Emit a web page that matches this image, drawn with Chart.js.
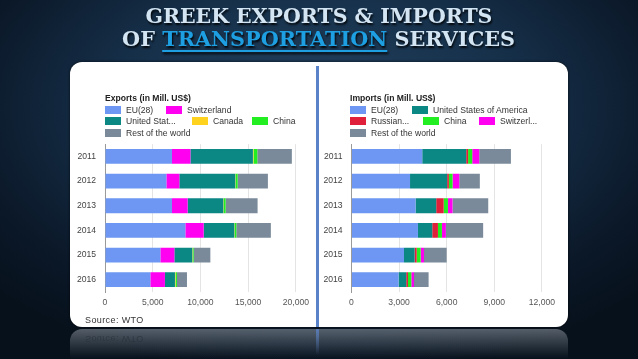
<!DOCTYPE html>
<html>
<head>
<meta charset="utf-8">
<script src="https://cdn.jsdelivr.net/npm/chart.js@4.4.1/dist/chart.umd.min.js"></script>
<style>
    html, body { margin: 0; padding: 0; }
    body { width: 638px; height: 359px; overflow: hidden; font-family: "Liberation Sans", Arial, sans-serif; }
    #slide {
        position: relative; width: 638px; height: 359px; overflow: hidden;
        background: radial-gradient(ellipse 70% 75% at 50% 30%, #22405d 0%, #16304a 45%, #0b1828 80%, #07111c 100%);
    }
    .title-line {
        position: absolute; left: 0; width: 638px; text-align: center; white-space: nowrap;
        font-family: "DejaVu Serif", serif; font-weight: bold; font-size: 21px; line-height: 21px;
        color: #d3e5f3; text-shadow: 1px 2px 2px rgba(0, 0, 0, 0.85);
    }
    .title-line span.inner { display: inline-block; transform-origin: center; }
    .hl { color: #1d9fe2; text-decoration: underline; text-decoration-thickness: 2px; text-underline-offset: 4px; }
    #panel {
        position: absolute; left: 70px; top: 62px; width: 498px; height: 265px;
        background: #fff; border-radius: 12px; box-shadow: 0 0 3px rgba(0, 0, 0, 0.7);
    }
    #reflection {
        position: absolute; left: 70px; top: 329px; width: 498px; height: 30px;
        border-radius: 12px 12px 0 0;
        background: linear-gradient(to bottom, rgba(190, 198, 208, 0.42), rgba(120, 132, 146, 0.12) 80%, rgba(120, 132, 146, 0));
    }
    #reflection .src {
        position: absolute; left: 15px; top: 5px; font-size: 9px; letter-spacing: 0.4px;
        color: rgba(40, 50, 60, 0.7); transform: scaleY(-1);
    }
    #divider {
        position: absolute; left: 316px; top: 66px; width: 3px; height: 261px; background: #5a82c8;
    }
    #divider-ref {
        position: absolute; left: 316px; top: 329px; width: 3px; height: 26px;
        background: linear-gradient(to bottom, rgba(90, 130, 200, 0.8), rgba(90, 130, 200, 0));
    }
    .legend { position: absolute; left: 0; top: 0; width: 638px; height: 359px; pointer-events: none; z-index: 3; }
    .legend .ltitle { position: absolute; font-size: 8.6px; font-weight: bold; color: #222; line-height: 10px; white-space: nowrap; }
    .legend .item { position: absolute; height: 10px; line-height: 10px; font-size: 8.6px; color: #333; white-space: nowrap; }
    .legend .sw { position: absolute; left: 0; top: 1px; width: 16px; height: 8px; }
    .legend .txt { position: absolute; left: 21px; top: 0; }
    .chart { position: absolute; z-index: 2; }
    .source { position: absolute; left: 85px; top: 315px; font-size: 9px; letter-spacing: 0.4px; color: #333; z-index: 3; }
</style>
</head>
<body>
<div id="slide">
    <div class="title-line" id="title1" style="top: 5px;"><span class="inner">GREEK EXPORTS &amp; IMPORTS</span></div>
    <div class="title-line" id="title2" style="top: 28px;"><span class="inner">OF <span class="hl">TRANSPORTATION</span> SERVICES</span></div>
    <div id="panel"></div>
    <div id="reflection"><div class="src">Source: WTO</div></div>
    <div id="divider"></div>
    <div id="divider-ref"></div>
    <div class="legend" id="exp-legend"></div>
    <div class="legend" id="imp-legend"></div>
    <div class="chart" style="left: 72px; top: 130px;"><canvas id="exp-chart" width="242" height="182"></canvas></div>
    <div class="chart" style="left: 322px; top: 130px;"><canvas id="imp-chart" width="238" height="182"></canvas></div>
    <div class="source">Source: WTO</div>
</div>
<script>
    // Values in million US$
    const years = ['2011', '2012', '2013', '2014', '2015', '2016'];

    const exportEU = [7020, 6430, 7020, 8420, 5800, 4750];
    const exportSwitzerland = [1930, 1360, 1640, 1920, 1470, 1530];
    const exportUSA = [6550, 5860, 3740, 3210, 1880, 1050];
    const exportCanada = [60, 40, 40, 40, 40, 60];
    const exportChina = [400, 210, 200, 170, 100, 150];
    const exportRest = [3620, 3170, 3350, 3620, 1750, 1050];

    const importEU = [4460, 3690, 4040, 4190, 3310, 2970];
    const importUSA = [2770, 2340, 1300, 900, 670, 480];
    const importRussia = [120, 110, 470, 360, 130, 110];
    const importChina = [260, 230, 270, 250, 250, 210];
    const importSwitzerland = [440, 420, 290, 250, 210, 170];
    const importRest = [2000, 1300, 2250, 2350, 1430, 920];

    const exportTicks = [0, 5000, 10000, 15000, 20000];
    const importTicks = [0, 3000, 6000, 9000, 12000];

    const exportLabels = ['EU(28)', 'Switzerland', 'United Stat...', 'Canada', 'China', 'Rest of the world'];
    const importLabels = ['EU(28)', 'United States of America', 'Russian...', 'China', 'Switzerl...', 'Rest of the world'];

    const COLORS = {
        eu: '#6d97f2',
        swiss: '#ff00f0',
        usa: '#0b8784',
        canada: '#ffd21f',
        china: '#22ee22',
        russia: '#e0203a',
        rest: '#7a8a9a'
    };

    const exportSeries = [
        { data: exportEU, color: COLORS.eu },
        { data: exportSwitzerland, color: COLORS.swiss },
        { data: exportUSA, color: COLORS.usa },
        { data: exportCanada, color: COLORS.canada },
        { data: exportChina, color: COLORS.china },
        { data: exportRest, color: COLORS.rest }
    ];
    const importSeries = [
        { data: importEU, color: COLORS.eu },
        { data: importUSA, color: COLORS.usa },
        { data: importRussia, color: COLORS.russia },
        { data: importChina, color: COLORS.china },
        { data: importSwitzerland, color: COLORS.swiss },
        { data: importRest, color: COLORS.rest }
    ];

    const tickFont = { family: '"Liberation Sans", Arial, sans-serif', size: 8.6 };

    function makeChart(id, labels, series, ticks, yWidth) {
        const ctx = document.getElementById(id).getContext('2d');
        return new Chart(ctx, {
            type: 'bar',
            data: {
                labels: years,
                datasets: series.map((s, i) => ({
                    label: labels[i],
                    data: s.data,
                    backgroundColor: s.color,
                    borderWidth: 0,
                    barPercentage: 0.6,
                    categoryPercentage: 1
                }))
            },
            options: {
                indexAxis: 'y',
                responsive: false,
                animation: false,
                layout: { padding: { top: 9, right: 18, left: 0, bottom: 0 } },
                plugins: {
                    legend: { display: false },
                    tooltip: { enabled: false }
                },
                scales: {
                    x: {
                        stacked: true,
                        min: ticks[0],
                        max: ticks[ticks.length - 1],
                        afterBuildTicks: scale => { scale.ticks = ticks.map(v => ({ value: v })); },
                        afterFit: scale => { scale.height = 20; },
                        grid: { color: '#e4e4e4', drawTicks: false },
                        border: { display: false },
                        ticks: {
                            font: tickFont,
                            color: '#555',
                            padding: 5,
                            maxRotation: 0,
                            callback: v => Number(v).toLocaleString('en-US')
                        }
                    },
                    y: {
                        stacked: true,
                        afterFit: scale => { scale.width = yWidth; },
                        grid: { display: false, drawTicks: false },
                        border: { color: '#9a9a9a', width: 1 },
                        ticks: { font: tickFont, color: '#444', padding: 9 }
                    }
                }
            }
        });
    }

    // Legend: rows of [series index, left px]
    function buildLegend(id, titleText, titleLeft, labels, series, rows) {
        const el = document.getElementById(id);
        let html = `<div class="ltitle" style="left:${titleLeft}px; top:93px;">${titleText}</div>`;
        const rowTops = [105, 116.3, 127.7];
        rows.forEach((row, r) => {
            row.forEach(([idx, left]) => {
                html += `<div class="item" style="left:${left}px; top:${rowTops[r]}px;">` +
                    `<span class="sw" style="background:${series[idx].color}"></span>` +
                    `<span class="txt">${labels[idx]}</span></div>`;
            });
        });
        el.innerHTML = html;
    }

    function fitTitle(id, target) {
        const inner = document.querySelector('#' + id + ' .inner');
        const w = inner.getBoundingClientRect().width;
        inner.style.transform = `scaleX(${target / w})`;
    }

    buildLegend('exp-legend', 'Exports (in Mill. US$)', 105, exportLabels, exportSeries,
        [[[0, 105], [1, 166]], [[2, 105], [3, 192], [4, 252]], [[5, 105]]]);
    buildLegend('imp-legend', 'Imports (in Mill. US$)', 350, importLabels, importSeries,
        [[[0, 350], [1, 412]], [[2, 350], [3, 423], [4, 479]], [[5, 350]]]);

    fitTitle('title1', 347);
    fitTitle('title2', 393);

    makeChart('exp-chart', exportLabels, exportSeries, exportTicks, 33);
    makeChart('imp-chart', importLabels, importSeries, importTicks, 29.5);
</script>
</body>
</html>
